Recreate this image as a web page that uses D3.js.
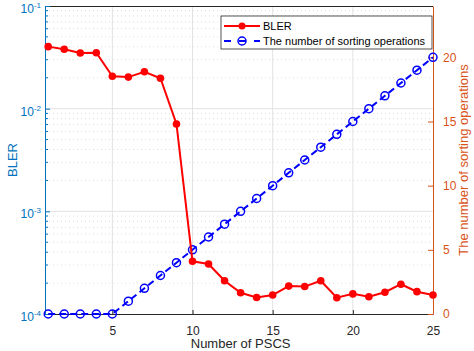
<!DOCTYPE html>
<html>
<head>
<meta charset="utf-8">
<script src="https://cdn.jsdelivr.net/npm/d3@7"></script>
<style>
  body { margin: 0; background: #fff; }
  text { font-family: "Liberation Sans", Arial, sans-serif; }
</style>
</head>
<body>
<div id="chart"></div>
<script>

// data
var pscs = [1, 2, 3, 4, 5, 6, 7, 8, 9, 10, 11, 12, 13, 14, 15, 16, 17, 18, 19, 20, 21, 22, 23, 24, 25];
var bler = [0.0402, 0.0379, 0.0348, 0.0351, 0.0207, 0.0203, 0.0229, 0.0198, 0.0071,
            3.26e-4, 3.07e-4, 2.11e-4, 1.61e-4, 1.45e-4, 1.53e-4, 1.87e-4, 1.85e-4, 2.11e-4,
            1.44e-4, 1.57e-4, 1.47e-4, 1.63e-4, 1.95e-4, 1.65e-4, 1.53e-4];
var sortOps = [0, 0, 0, 0, 0, 1, 2, 3, 4, 5, 6, 7, 8, 9, 10, 11, 12, 13, 14, 15, 16, 17, 18, 19, 20];
var xTicks = [5, 10, 15, 20, 25];
var leftTicks = [1e-4, 1e-3, 1e-2, 1e-1];
var rightTicks = [0, 5, 10, 15, 20];
var seriesNames = ["BLER", "The number of sorting operations"];

var blue = "#0072BD", orange = "#D95319", axisGray = "#262626";

var margin = { top: 6, right: 41, bottom: 37, left: 45 };
var width = 474 - margin.left - margin.right,
    height = 351 - margin.top - margin.bottom;

var svg = d3.select("#chart").append("svg")
    .attr("width", 474)
    .attr("height", 351)
  .append("g")
    .attr("transform", "translate(" + margin.left + "," + margin.top + ")");

var x = d3.scaleLinear().domain([0.8, 25]).range([0, width]);
var yL = d3.scaleLog().domain([1e-4, 1e-1]).range([height, 0]);
var yR = d3.scaleLinear().domain([0, 24]).range([height, 0]);

// minor log ticks
var minor = [];
[1e-4, 1e-3, 1e-2].forEach(function(d) {
  for (var k = 2; k <= 9; k++) minor.push(d * k);
});

// grid
var grid = svg.append("g").attr("class", "grid");
grid.selectAll(".gx").data(xTicks.slice(0, 4)).enter().append("line")
    .attr("x1", function(d) { return x(d); }).attr("x2", function(d) { return x(d); })
    .attr("y1", 0).attr("y2", height)
    .attr("stroke", "#e3e3e3").attr("stroke-width", 1);
grid.selectAll(".gy").data(leftTicks.slice(1, 3)).enter().append("line")
    .attr("x1", 0).attr("x2", width)
    .attr("y1", function(d) { return yL(d); }).attr("y2", function(d) { return yL(d); })
    .attr("stroke", "#e3e3e3").attr("stroke-width", 1);
grid.selectAll(".gm").data(minor).enter().append("line")
    .attr("x1", 0).attr("x2", width)
    .attr("y1", function(d) { return yL(d); }).attr("y2", function(d) { return yL(d); })
    .attr("stroke", "#dedede").attr("stroke-width", 1)
    .attr("stroke-dasharray", "1,3");

// box top
svg.append("line").attr("x1", 0).attr("x2", width).attr("y1", 0.5).attr("y2", 0.5)
    .attr("stroke", axisGray).attr("stroke-width", 1);

// x axis (ticks inward)
var xAxis = d3.axisBottom(x).tickValues(xTicks).tickSizeInner(-4).tickSizeOuter(0).tickPadding(12);
var gx = svg.append("g")
    .attr("transform", "translate(0," + height + ")")
    .call(xAxis);
gx.select(".domain").attr("stroke", axisGray);
gx.selectAll(".tick line").attr("stroke", axisGray);
gx.selectAll(".tick text").attr("fill", axisGray).attr("font-size", 12);

svg.append("text")
    .attr("x", x(13)).attr("y", height + 34)
    .attr("text-anchor", "middle")
    .attr("font-size", 13)
    .attr("fill", axisGray)
    .text("Number of PSCS");

// left axis (log)
var gl = svg.append("g")
    .call(d3.axisLeft(yL).tickValues(leftTicks).tickSizeInner(-5).tickSizeOuter(0).tickFormat(""));
gl.select(".domain").attr("stroke", blue);
gl.selectAll(".tick line").attr("stroke", blue);
gl.selectAll(".minor").data(minor).enter().append("line")
    .attr("x1", 0).attr("x2", 3)
    .attr("y1", function(d) { return yL(d); }).attr("y2", function(d) { return yL(d); })
    .attr("stroke", blue);
var lab = gl.selectAll(".tlab").data(leftTicks).enter().append("text")
    .attr("x", -4).attr("y", function(d) { return yL(d) + 7; })
    .attr("text-anchor", "end")
    .attr("fill", blue)
    .attr("font-size", 12);
lab.append("tspan").text("10");
lab.append("tspan").attr("dy", -5).attr("font-size", 8)
    .text(function(d) { return "-" + Math.round(-Math.log10(d)); });

svg.append("text")
    .attr("transform", "translate(-28," + height / 2 + ") rotate(-90)")
    .attr("text-anchor", "middle")
    .attr("font-size", 13)
    .attr("fill", blue)
    .text("BLER");

// right axis
var gr = svg.append("g")
    .attr("transform", "translate(" + width + ",0)")
    .call(d3.axisRight(yR).tickValues(rightTicks).tickSizeInner(-5).tickSizeOuter(0).tickPadding(10));
gr.select(".domain").attr("stroke", orange);
gr.selectAll(".tick line").attr("stroke", orange);
gr.selectAll(".tick text").attr("fill", orange).attr("font-size", 12);

svg.append("text")
    .attr("transform", "translate(" + (width + 35) + "," + height / 2 + ") rotate(-90)")
    .attr("text-anchor", "middle")
    .attr("font-size", 13)
    .attr("fill", orange)
    .text(seriesNames[1]);

// sorting operations line (blue dashed, open circles)
var lineR = d3.line()
    .x(function(d, i) { return x(pscs[i]); })
    .y(function(d) { return yR(d); });
svg.append("path")
    .datum(sortOps)
    .attr("fill", "none")
    .attr("stroke", "#0000ff")
    .attr("stroke-width", 2)
    .attr("stroke-dasharray", "7,4")
    .attr("d", lineR);
svg.selectAll(".cR").data(sortOps).enter().append("circle")
    .attr("cx", function(d, i) { return x(pscs[i]); })
    .attr("cy", function(d) { return yR(d); })
    .attr("r", 4)
    .attr("fill", "none")
    .attr("stroke", "#0000ff")
    .attr("stroke-width", 1.5);

// BLER line (red)
var lineL = d3.line()
    .x(function(d, i) { return x(pscs[i]); })
    .y(function(d) { return yL(d); });
svg.append("path")
    .datum(bler)
    .attr("fill", "none")
    .attr("stroke", "#ff0000")
    .attr("stroke-width", 2)
    .attr("d", lineL);
svg.selectAll(".cL").data(bler).enter().append("circle")
    .attr("cx", function(d, i) { return x(pscs[i]); })
    .attr("cy", function(d) { return yL(d); })
    .attr("r", 3.8)
    .attr("fill", "#ff0000");

// legend
var leg = svg.append("g").attr("transform", "translate(176,10)");
leg.append("rect")
    .attr("width", 211).attr("height", 33)
    .attr("fill", "#fff").attr("stroke", axisGray).attr("stroke-width", 0.8);
leg.append("line").attr("x1", 3).attr("x2", 39).attr("y1", 10).attr("y2", 10)
    .attr("stroke", "#ff0000").attr("stroke-width", 2);
leg.append("circle").attr("cx", 21).attr("cy", 10).attr("r", 3.5).attr("fill", "#ff0000");
leg.append("line").attr("x1", 3).attr("x2", 39).attr("y1", 25).attr("y2", 25)
    .attr("stroke", "#0000ff").attr("stroke-width", 2).attr("stroke-dasharray", "7,8");
leg.append("circle").attr("cx", 21).attr("cy", 25).attr("r", 4)
    .attr("fill", "none").attr("stroke", "#0000ff").attr("stroke-width", 1.5);
leg.selectAll(".lt").data(seriesNames).enter().append("text")
    .attr("x", 42).attr("y", function(d, i) { return 14 + i * 15; })
    .attr("font-size", 11)
    .attr("fill", "#000")
    .text(function(d) { return d; });

</script>
</body>
</html>
